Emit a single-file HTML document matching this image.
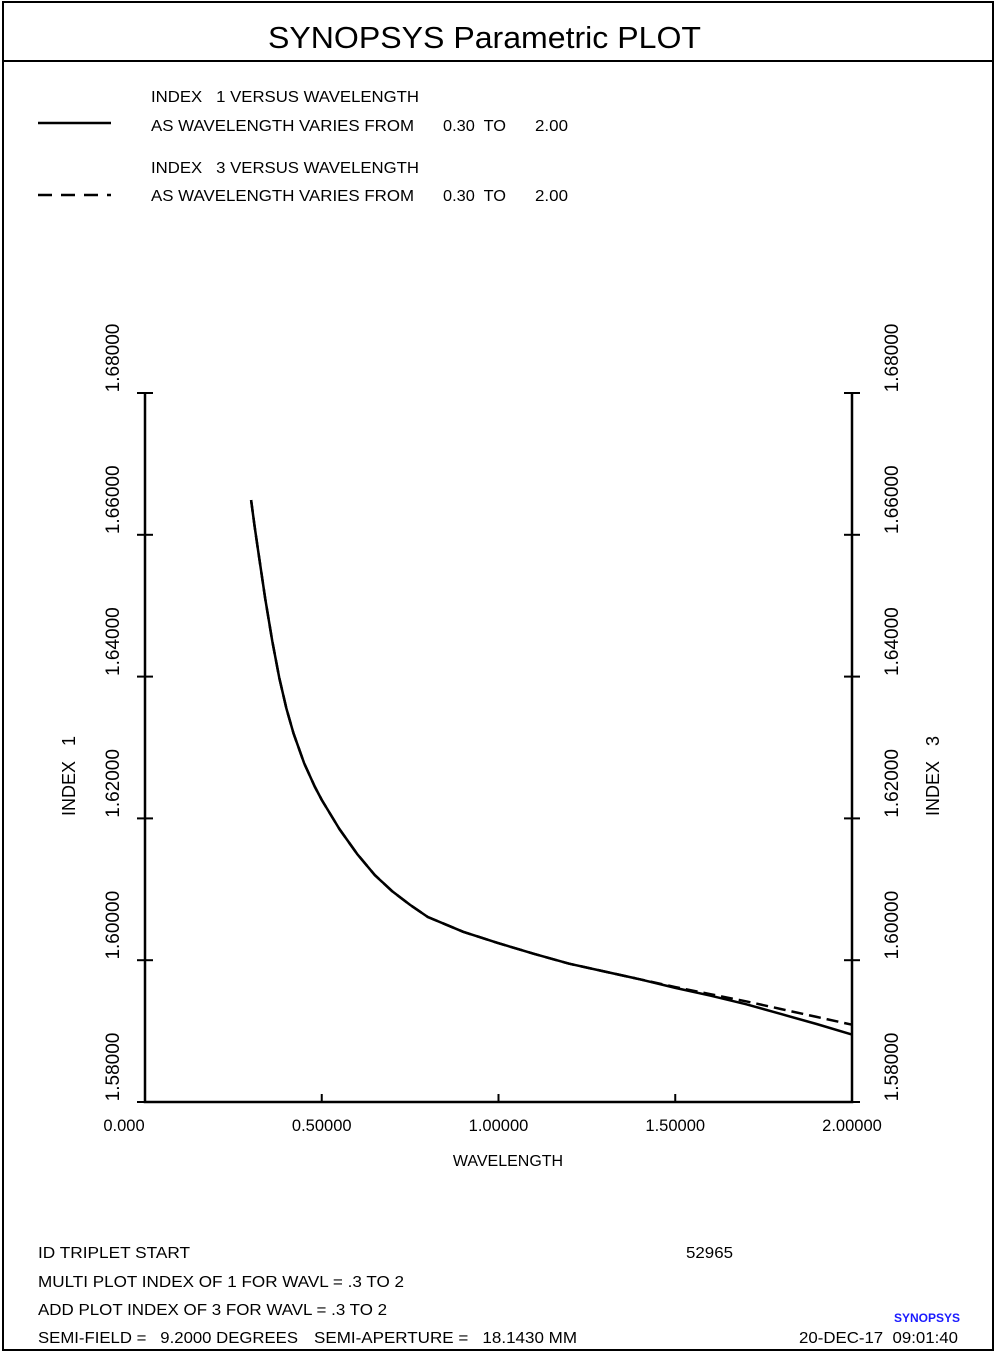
<!DOCTYPE html>
<html><head><meta charset="utf-8">
<style>
body{margin:0;background:#fff;}
svg{display:block;font-family:"Liberation Sans",sans-serif;}
text{white-space:pre;}
</style></head>
<body>
<svg width="1000" height="1354" viewBox="0 0 1000 1354" xml:space="preserve">
<rect x="3" y="2" width="990" height="1348" fill="none" stroke="#000" stroke-width="2"/>
<line x1="3" y1="61" x2="993" y2="61" stroke="#000" stroke-width="2"/>
<text x="268" y="48" font-size="31" textLength="433" lengthAdjust="spacingAndGlyphs">SYNOPSYS Parametric PLOT</text>
<g font-size="16">
<line x1="38" y1="123" x2="111" y2="123" stroke="#000" stroke-width="2.5"/>
<text x="151" y="102" textLength="268" lengthAdjust="spacingAndGlyphs">INDEX   1 VERSUS WAVELENGTH</text>
<text x="151" y="131" textLength="263" lengthAdjust="spacingAndGlyphs">AS WAVELENGTH VARIES FROM</text>
<text x="443" y="131" textLength="63" lengthAdjust="spacingAndGlyphs">0.30  TO</text>
<text x="535" y="131" textLength="33" lengthAdjust="spacingAndGlyphs">2.00</text>
<line x1="38" y1="195" x2="111" y2="195" stroke="#000" stroke-width="2.5" stroke-dasharray="14,9"/>
<text x="151" y="173" textLength="268" lengthAdjust="spacingAndGlyphs">INDEX   3 VERSUS WAVELENGTH</text>
<text x="151" y="201" textLength="263" lengthAdjust="spacingAndGlyphs">AS WAVELENGTH VARIES FROM</text>
<text x="443" y="201" textLength="63" lengthAdjust="spacingAndGlyphs">0.30  TO</text>
<text x="535" y="201" textLength="33" lengthAdjust="spacingAndGlyphs">2.00</text>
</g>
<g id="plot"></g>
<g font-size="16">
<text x="38" y="1258" textLength="152" lengthAdjust="spacingAndGlyphs">ID TRIPLET START</text>
<text x="686" y="1258" textLength="47" lengthAdjust="spacingAndGlyphs">52965</text>
<text x="38" y="1287" textLength="366" lengthAdjust="spacingAndGlyphs">MULTI PLOT INDEX OF 1 FOR WAVL = .3 TO 2</text>
<text x="38" y="1315" textLength="349" lengthAdjust="spacingAndGlyphs">ADD PLOT INDEX OF 3 FOR WAVL = .3 TO 2</text>
<text x="38" y="1343" textLength="260" lengthAdjust="spacingAndGlyphs">SEMI-FIELD =   9.2000 DEGREES</text>
<text x="314" y="1343" textLength="263" lengthAdjust="spacingAndGlyphs">SEMI-APERTURE =   18.1430 MM</text>
<text x="799" y="1343" textLength="159" lengthAdjust="spacingAndGlyphs">20-DEC-17  09:01:40</text>
<text x="960" y="1322" text-anchor="end" font-size="12" font-weight="bold" fill="#1a1aff">SYNOPSYS</text>
</g>
</svg>
<script>
const xTicks=[0,0.5,1.0,1.5,2.0];
const xTickLabels=["0.000","0.50000","1.00000","1.50000","2.00000"];
const yTicks=[1.58,1.60,1.62,1.64,1.66,1.68];
const yTickLabels=["1.58000","1.60000","1.62000","1.64000","1.66000","1.68000"];
const wavelength1=[0.30,0.31,0.32,0.34,0.36,0.38,0.40,0.42,0.45,0.48,0.50,0.55,0.60,0.65,0.70,0.75,0.80,0.90,1.0,1.1,1.2,1.3,1.4,1.5,1.6,1.7,1.8,1.9,2.0];
const index1=[1.6649,1.6612,1.6578,1.6510,1.6450,1.6398,1.6355,1.6320,1.6278,1.6245,1.6226,1.6185,1.6150,1.6120,1.6097,1.6078,1.6061,1.6040,1.6024,1.6009,1.5995,1.5984,1.5973,1.5961,1.5950,1.5938,1.5924,1.5910,1.5895];
const wavelength3=[0.30,0.31,0.32,0.34,0.36,0.38,0.40,0.42,0.45,0.48,0.50,0.55,0.60,0.65,0.70,0.75,0.80,0.90,1.0,1.1,1.2,1.3,1.4,1.5,1.6,1.7,1.8,1.9,2.0];
const index3=[1.6649,1.6612,1.6578,1.6510,1.6450,1.6398,1.6355,1.6320,1.6278,1.6245,1.6226,1.6185,1.6150,1.6120,1.6097,1.6078,1.6061,1.6040,1.6024,1.6009,1.5995,1.5984,1.5973,1.5962,1.5952,1.5942,1.5931,1.5920,1.5909];
const NS="http://www.w3.org/2000/svg";
const L=145,R=852,T=393,B=1102;
const xS=v=>L+(v-0)/(2.0-0)*(R-L);
const yS=v=>B-(v-1.58)/(0.10)*(B-T);
const g=document.getElementById('plot');
function mk(tag,attrs){const e=document.createElementNS(NS,tag);for(const k in attrs)e.setAttribute(k,attrs[k]);g.appendChild(e);return e;}
let e;
e=mk('path',{d:`M${L},${T} V${B} H${R} V${T}`,fill:'none',stroke:'#000','stroke-width':2.5});


xTicks.forEach((v,i)=>{
 e=mk('line',{x1:xS(v),x2:xS(v),y1:B,y2:B-8,stroke:'#000','stroke-width':2});
 
 
 e=mk('text',{x:xS(v)-(i==0?21:0),y:B+29,'font-size':16.5,'text-anchor':'middle'});e.textContent=xTickLabels[i];
 
 
});
yTicks.forEach((v,i)=>{
 e=mk('line',{x1:L-8,x2:L+8,y1:yS(v),y2:yS(v),stroke:'#000','stroke-width':2});
 
 
 e=mk('line',{x1:R-8,x2:R+8,y1:yS(v),y2:yS(v),stroke:'#000','stroke-width':2});
 
 
 e=mk('text',{x:0,y:0,'font-size':19,'text-anchor':'middle',transform:`translate(119,${yS(v)-35}) rotate(-90)`});e.textContent=yTickLabels[i];
 
 
 e=mk('text',{x:0,y:0,'font-size':19,'text-anchor':'middle',transform:`translate(898,${yS(v)-35}) rotate(-90)`});e.textContent=yTickLabels[i];
 
 
});
e=mk('text',{x:508,y:1166,'font-size':16,'text-anchor':'middle'});e.textContent='WAVELENGTH';


e=mk('text',{x:0,y:0,'font-size':18,'text-anchor':'middle',transform:'translate(75,776) rotate(-90)'});e.textContent='INDEX   1';


e=mk('text',{x:0,y:0,'font-size':18,'text-anchor':'middle',transform:'translate(939,776) rotate(-90)'});e.textContent='INDEX   3';


function pts(xs,ys){return xs.map((x,i)=>`${xS(x).toFixed(1)},${yS(ys[i]).toFixed(1)}`).join(' ');}
e=mk('polyline',{points:pts(wavelength3,index3),fill:'none',stroke:'#000','stroke-width':2.5,'stroke-dasharray':'12,6','stroke-linejoin':'round'});


e=mk('polyline',{points:pts(wavelength1,index1),fill:'none',stroke:'#000','stroke-width':2.5,'stroke-linejoin':'round'});


</script>
</body></html>
